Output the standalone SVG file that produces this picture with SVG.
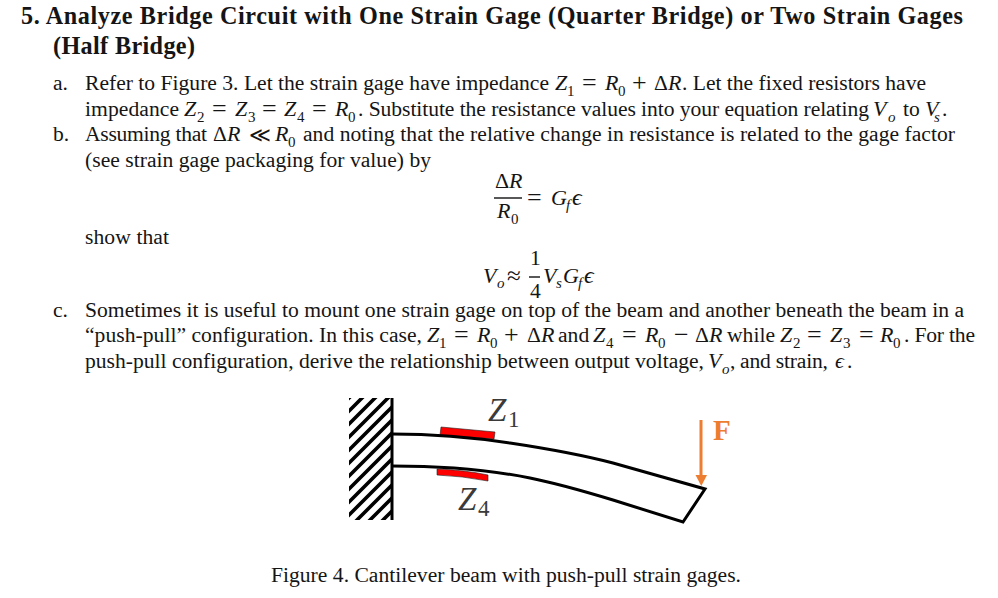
<svg xmlns="http://www.w3.org/2000/svg" width="998" height="598" viewBox="0 0 998 598">
<style>
text{font-family:"Liberation Serif","Times New Roman",serif;fill:#151515;font-size:21.6px}
.h{font-weight:bold;font-size:24.2px}
.m{font-style:italic;font-size:22px}
.o{font-size:26px}
.s{font-size:15px}
.si{font-size:15px;font-style:italic}
.beam{fill:none;stroke:#000;stroke-width:3}
.gage{fill:#f00;stroke:#222;stroke-width:.6}
.fl{fill:#3a3a3a;font-size:33px;font-style:italic}
.fs{fill:#3a3a3a;font-size:23px}
</style>
<defs>
<pattern id="hatch" patternUnits="userSpaceOnUse" width="13" height="13" x="349" y="398">
<path d="M-2 15L15 -2M-3 3L3 -3M10 16L16 10" stroke="#000" stroke-width="3.6" fill="none"/>
</pattern>
</defs>
<rect width="998" height="598" fill="#fff"/>
<g id="heading">
<text class="h" x="21" y="24" textLength="942">5. Analyze Bridge Circuit with One Strain Gage (Quarter Bridge) or Two Strain Gages</text>
<text class="h" x="53" y="54" textLength="142">(Half Bridge)</text>
</g>
<g id="item-a">
<text x="53" y="90">a.</text>
<text x="85" y="90" textLength="464">Refer to Figure 3. Let the strain gage have impedance</text>
<text class="m" x="555" y="90">Z</text><text class="s" x="567" y="96">1</text>
<text class="o" x="582" y="91">=</text><text class="m" x="605" y="90">R</text><text class="s" x="618" y="96">0</text>
<text class="o" x="632" y="91">+</text><text x="654" y="90">Δ</text><text class="m" x="668" y="90">R</text>
<text x="682" y="90" textLength="244">. Let the fixed resistors have</text>
<text x="85" y="116" textLength="94">impedance</text>
<text class="m" x="184" y="116">Z</text><text class="s" x="197" y="122">2</text>
<text class="o" x="212" y="117">=</text><text class="m" x="235" y="116">Z</text><text class="s" x="248" y="122">3</text>
<text class="o" x="262" y="117">=</text><text class="m" x="284" y="116">Z</text><text class="s" x="297" y="122">4</text>
<text class="o" x="312" y="117">=</text><text class="m" x="335" y="116">R</text><text class="s" x="348" y="122">0</text>
<text x="358" y="116" textLength="511">. Substitute the resistance values into your equation relating</text>
<text class="m" x="873" y="116">V</text><text class="si" x="888" y="122">o</text>
<text x="903" y="116">to</text>
<text class="m" x="925" y="116">V</text><text class="si" x="934" y="122">s</text><text x="942" y="116">.</text>
</g>
<g id="item-b">
<text x="53" y="141">b.</text>
<text x="85" y="141" textLength="122">Assuming that</text>
<text x="213" y="141">Δ</text><text class="m" x="227" y="141">R</text>
<text x="249" y="142" style="font-size:21px">≪</text>
<text class="m" x="275" y="141">R</text><text class="s" x="288" y="147">0</text>
<text x="303" y="141" textLength="652">and noting that the relative change in resistance is related to the gage factor</text>
<text x="85" y="167" textLength="346">(see strain gage packaging for value) by</text>
</g>
<g id="eq-1">
<text x="495" y="188" style="font-size:22px">Δ</text><text class="m" x="509" y="188">R</text>
<path d="M494 198H522" stroke="#111" stroke-width="1.4"/>
<text class="m" x="497" y="218">R</text><text class="s" x="511" y="224">0</text>
<text class="o" x="527" y="206">=</text>
<text class="m" x="551" y="205">G</text><text class="si" x="566" y="210">f</text><text class="m" x="572" y="205" style="font-size:24px">ϵ</text>
</g>
<text x="85" y="244" textLength="84">show that</text>
<g id="eq-2">
<text class="m" x="483" y="283">V</text><text class="si" x="497" y="288">o</text>
<text x="507" y="284" style="font-size:25px">≈</text>
<text x="530" y="265">1</text>
<path d="M529 277H540" stroke="#111" stroke-width="1.4"/>
<text x="530" y="298">4</text>
<text class="m" x="543" y="283">V</text><text class="si" x="556" y="288">s</text>
<text class="m" x="563" y="283">G</text><text class="si" x="578" y="288">f</text><text class="m" x="584" y="283" style="font-size:24px">ϵ</text>
</g>
<g id="item-c">
<text x="53" y="317">c.</text>
<text x="85" y="317" textLength="879">Sometimes it is useful to mount one strain gage on top of the beam and another beneath the beam in a</text>
<text x="85" y="342" textLength="337">“push-pull” configuration. In this case,</text>
<text class="m" x="427" y="342">Z</text><text class="s" x="439" y="348">1</text>
<text class="o" x="454" y="343">=</text><text class="m" x="477" y="342">R</text><text class="s" x="490" y="348">0</text>
<text class="o" x="504" y="343">+</text><text x="527" y="342">Δ</text><text class="m" x="541" y="342">R</text>
<text x="558" y="342">and</text>
<text class="m" x="593" y="342">Z</text><text class="s" x="606" y="348">4</text>
<text class="o" x="622" y="343">=</text><text class="m" x="645" y="342">R</text><text class="s" x="658" y="348">0</text>
<text class="o" x="674" y="343">−</text><text x="695" y="342">Δ</text><text class="m" x="709" y="342">R</text>
<text x="727" y="342">while</text>
<text class="m" x="780" y="342">Z</text><text class="s" x="793" y="348">2</text>
<text class="o" x="807" y="343">=</text><text class="m" x="830" y="342">Z</text><text class="s" x="843" y="348">3</text>
<text class="o" x="859" y="343">=</text><text class="m" x="880" y="342">R</text><text class="s" x="893" y="348">0</text>
<text x="904" y="342" textLength="71">. For the</text>
<text x="85" y="368" textLength="619">push-pull configuration, derive the relationship between output voltage,</text>
<text class="m" x="708" y="368">V</text><text class="si" x="722" y="374">o</text><text x="730" y="368">,</text>
<text x="740" y="368" textLength="88">and strain,</text>
<text class="m" x="835" y="368">ϵ</text><text x="847" y="368">.</text>
</g>
<g id="figure">
<rect x="349" y="398" width="43" height="122" fill="url(#hatch)"/>
<path class="beam" d="M392 398V520"/>
<path class="gage" d="M441 427L495 432L494 439L440 435Z"/>
<path class="gage" d="M437 469Q465 470 488 475L488 481Q462 476 437 475Z"/>
<path class="beam" d="M392 434C430 434 470 437 510 443C550 449 590 457 613 463L705 489L683 522L613 500C580 490 550 482 530 478C490 470 440 466 392 466"/>
<path d="M701 420V477" stroke="#ed7d31" stroke-width="3" fill="none"/>
<path d="M695.500 475H707L701.300 486Z" fill="#ed7d31"/>
<text x="713" y="440" style="fill:#ed7d31;font-weight:bold;font-size:29px">F</text>
<text class="fl" x="488" y="421">Z</text><text class="fs" x="508" y="427">1</text>
<text class="fl" x="458" y="510">Z</text><text class="fs" x="478" y="516">4</text>
<text x="271" y="582" textLength="470">Figure 4. Cantilever beam with push-pull strain gages.</text>
</g>
</svg>
